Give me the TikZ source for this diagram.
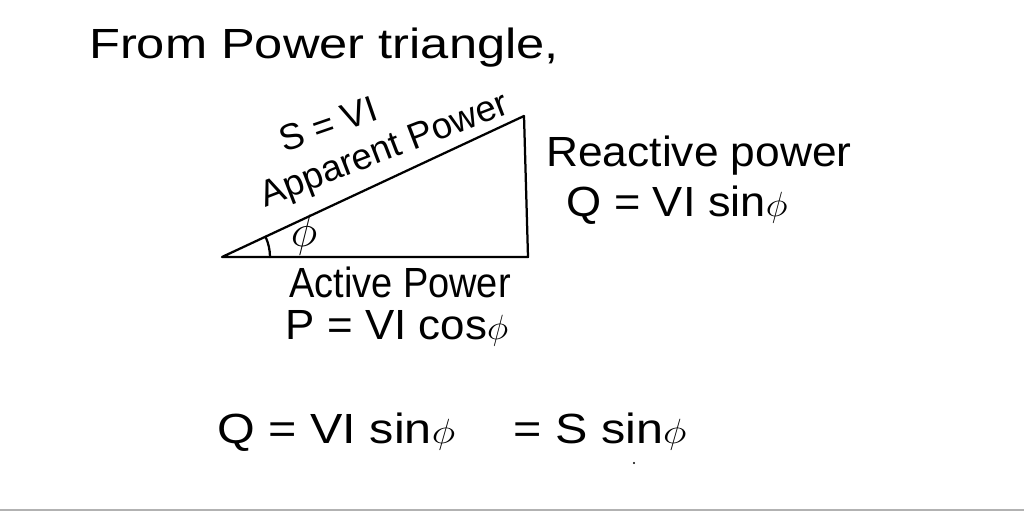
\documentclass[tikz,border=0pt]{standalone}
\usepackage{fontspec}
\setmainfont{Liberation Sans}
\tikzset{
  hand/.style={font=\fontsize{30}{34}\selectfont, inner sep=0pt},
  small hand/.style={font=\fontsize{26}{30}\selectfont, inner sep=0pt},
  side/.style={line width=1.6pt, line cap=round, line join=round}
}
\begin{document}
\begin{tikzpicture}[x=0.025cm, y=0.025cm]
\useasboundingbox (0,0) rectangle (1024,512);
\fill[white] (0,0) rectangle (1024,512);
% title
\node[hand] (title) at (324,464) {\scalebox{1.2}[1]{From Power triangle,}};
% power triangle
\coordinate (A) at (222,255);
\coordinate (B) at (528,255);
\coordinate (C) at (524,396);
\draw[side] (A) -- (B) -- (C) -- cycle;
\draw[side] (270,255) arc[start angle=0, end angle=25, radius=48];
\node[hand] (phi) at (304,277) {\scalebox{1.3}{$\phi$}};
% labels of the sides
\node[small hand, rotate=19] (S) at (328,388) {S = VI};
\node[small hand, rotate=21] (app) at (385,360) {Apparent Power};
\node[hand] (react) at (699,356) {\scalebox{1.05}[1]{Reactive power}};
\node[hand] (Q) at (677,307) {\scalebox{1.07}[1]{Q = VI sin$\phi$}};
\node[hand] (act) at (400,230) {\scalebox{0.9}[1]{Active Power}};
\node[hand] (P) at (397,184) {\scalebox{1.04}[1]{P = VI cos$\phi$}};
% result
\node[hand] (res) at (452,80) {\scalebox{1.15}[1]{Q = VI sin$\phi$\hspace{1.2em}= S sin$\phi$}};
\fill (634,49) circle (1.2);
\draw[gray!60, line width=1pt] (0,2) -- (1024,2);
\end{tikzpicture}
\end{document}
